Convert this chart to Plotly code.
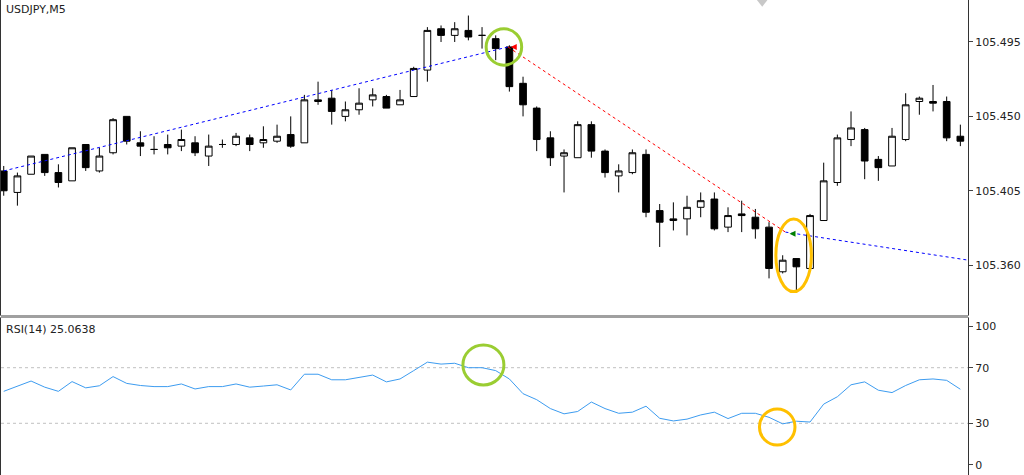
import plotly.graph_objects as go
from plotly.subplots import make_subplots

# USDJPY M5 candles
opens = [105.417, 105.404, 105.415, 105.427, 105.416, 105.411, 105.433, 105.417, 105.428, 105.450,
         105.434, 105.430, 105.433, 105.432, 105.434, 105.426, 105.433, 105.433, 105.437, 105.434,
         105.435, 105.439, 105.434, 105.459, 105.461, 105.450, 105.454, 105.460, 105.462, 105.457,
         105.462, 105.478, 105.503, 105.499, 105.502, 105.499, 105.497, 105.492, 105.470, 105.455,
         105.437, 105.426, 105.425, 105.445, 105.429, 105.414, 105.416, 105.427, 105.393, 105.387,
         105.388, 105.395, 105.400, 105.383, 105.391, 105.389, 105.383, 105.356, 105.364, 105.358,
         105.387, 105.410, 105.436, 105.442, 105.424, 105.420, 105.436, 105.459, 105.459, 105.459,
         105.438]
highs = [105.420, 105.416, 105.426, 105.427, 105.421, 105.431, 105.433, 105.431, 105.449, 105.450,
         105.441, 105.438, 105.439, 105.442, 105.438, 105.439, 105.436, 105.440, 105.439, 105.444,
         105.445, 105.450, 105.463, 105.471, 105.466, 105.459, 105.467, 105.467, 105.463, 105.466,
         105.480, 105.504, 105.505, 105.507, 105.511, 105.504, 105.499, 105.493, 105.474, 105.456,
         105.441, 105.430, 105.447, 105.447, 105.430, 105.421, 105.430, 105.430, 105.397, 105.398,
         105.402, 105.404, 105.404, 105.395, 105.399, 105.394, 105.386, 105.366, 105.364, 105.391,
         105.422, 105.439, 105.453, 105.443, 105.426, 105.443, 105.464, 105.462, 105.469, 105.462,
         105.445]
lows = [105.402, 105.396, 105.415, 105.414, 105.407, 105.411, 105.417, 105.416, 105.427, 105.433,
        105.426, 105.427, 105.427, 105.429, 105.426, 105.420, 105.431, 105.432, 105.429, 105.431,
        105.434, 105.431, 105.434, 105.457, 105.445, 105.447, 105.451, 105.456, 105.455, 105.457,
        105.462, 105.471, 105.495, 105.495, 105.496, 105.491, 105.484, 105.465, 105.450, 105.429,
        105.420, 105.404, 105.425, 105.425, 105.413, 105.404, 105.415, 105.389, 105.371, 105.381,
        105.378, 105.389, 105.381, 105.380, 105.380, 105.376, 105.352, 105.355, 105.344, 105.356,
        105.387, 105.408, 105.432, 105.412, 105.411, 105.420, 105.435, 105.451, 105.453, 105.435,
        105.432]
closes = [105.405, 105.414, 105.426, 105.416, 105.410, 105.431, 105.419, 105.426, 105.448, 105.435,
          105.432, 105.430, 105.431, 105.436, 105.428, 105.432, 105.433, 105.438, 105.433, 105.436,
          105.438, 105.432, 105.460, 105.460, 105.453, 105.454, 105.458, 105.463, 105.455, 105.460,
          105.479, 105.502, 105.499, 105.503, 105.498, 105.499, 105.491, 105.468, 105.457, 105.436,
          105.425, 105.428, 105.445, 105.429, 105.416, 105.417, 105.428, 105.392, 105.386, 105.388,
          105.395, 105.399, 105.382, 105.390, 105.390, 105.382, 105.358, 105.363, 105.359, 105.390,
          105.411, 105.437, 105.443, 105.423, 105.419, 105.438, 105.457, 105.461, 105.458, 105.437,
          105.435]
rsi = [53, 56.6, 60.4, 56, 53, 60, 55.5, 57, 63.6, 58.7,
       57.2, 56.4, 56.4, 58.3, 54.7, 56.4, 56.4, 58.3, 56, 56.8,
       57.7, 54, 65.3, 65.3, 61.3, 61.3, 62.8, 64.7, 59.8, 61.9,
       67.9, 74, 72.6, 73.2, 70, 70, 67.9, 61.9, 51.3, 47,
       40.6, 36.8, 38.5, 45.3, 40.6, 37.2, 38, 42.3, 33.6, 31.7,
       33, 36, 38, 33.4, 37.2, 37.2, 34.3, 29.6, 31.5, 30.9,
       43.8, 49.1, 57.7, 59.8, 53.8, 52.1, 57.2, 61.3, 61.9, 60.9,
       54.5]
bars = list(range(len(opens)))

# trend lines (bar index, price)
up_line = ([0, 36.9], [105.417, 105.492])
down_line = ([36.9, 57.2], [105.492, 105.380])
low_line = ([57.2, 70.6], [105.380, 105.363])

fig = make_subplots(rows=2, cols=1, shared_xaxes=True, vertical_spacing=0)

fig.add_trace(go.Candlestick(x=bars, open=opens, high=highs, low=lows, close=closes,
                             increasing=dict(fillcolor="white", line=dict(color="black", width=1)),
                             decreasing=dict(fillcolor="black", line=dict(color="black", width=1)),
                             whiskerwidth=0, showlegend=False), row=1, col=1)
for (lx, ly), c in [(up_line, "blue"), (down_line, "red"), (low_line, "blue")]:
    fig.add_trace(go.Scatter(x=lx, y=ly, mode="lines", line=dict(color=c, width=1, dash="dot"),
                             showlegend=False), row=1, col=1)
fig.add_trace(go.Scatter(x=[37.1], y=[105.492], mode="markers",
                         marker=dict(symbol="arrow-left", size=6, color="red"), showlegend=False), row=1, col=1)
fig.add_trace(go.Scatter(x=[57.5], y=[105.379], mode="markers",
                         marker=dict(symbol="arrow-left", size=6, color="green"), showlegend=False), row=1, col=1)
fig.add_trace(go.Scatter(x=[55.5], y=[105.5205], mode="markers", cliponaxis=True,
                         marker=dict(symbol="triangle-down", size=14, color="#c8c8c8"), showlegend=False), row=1, col=1)

fig.add_trace(go.Scatter(x=bars, y=rsi, mode="lines", line=dict(color="#3d9cf0", width=1),
                         showlegend=False), row=2, col=1)

# highlight circles
fig.add_shape(type="circle", xref="x", yref="y", x0=35.3, x1=37.9, y0=105.481, y1=105.503,
              line=dict(color="#9acd32", width=3))
fig.add_shape(type="circle", xref="x", yref="y", x0=56.5, x1=59.1, y0=105.344, y1=105.388,
              line=dict(color="#ffc000", width=3))
fig.add_shape(type="circle", xref="x2", yref="y2", x0=33.6, x1=36.6, y0=57.6, y1=86.4,
              line=dict(color="#9acd32", width=3))
fig.add_shape(type="circle", xref="x2", yref="y2", x0=55.3, x1=57.9, y0=14.3, y1=40.3,
              line=dict(color="#ffc000", width=3))
for lvl in [30, 70]:
    fig.add_shape(type="line", xref="x2 domain", yref="y2", x0=0, x1=1, y0=lvl, y1=lvl,
                  line=dict(color="#c0c0c0", width=1, dash="dot"), layer="below")
# pane separator
fig.add_shape(type="rect", xref="paper", yref="paper", x0=0, x1=1, y0=0.3305, y1=0.337,
              line=dict(width=0), fillcolor="#a0a0a0")

fig.add_annotation(text="USDJPY,M5", xref="paper", yref="paper", x=0.003, y=0.998,
                   xanchor="left", yanchor="top", showarrow=False, font=dict(size=11, color="#222"))
fig.add_annotation(text="RSI(14) 25.0638", xref="paper", yref="paper", x=0.003, y=0.325,
                   xanchor="left", yanchor="top", showarrow=False, font=dict(size=11, color="#222"))

axis_font = dict(family="DejaVu Sans", size=11, color="#222")
fig.update_xaxes(range=[-0.2, 70.56], showgrid=False, showticklabels=False, zeroline=False,
                 rangeslider=dict(visible=False), showline=True, linecolor="#888", mirror=True)
fig.update_yaxes(side="right", showgrid=False, zeroline=False, ticks="outside", ticklen=4,
                 showline=True, linecolor="#333", mirror=True, tickfont=axis_font)
fig.update_yaxes(range=[105.3299, 105.5204], tickvals=[105.360, 105.405, 105.450, 105.495],
                 tickformat=".3f", domain=[0.337, 1], row=1, col=1)
fig.update_yaxes(range=[-7.2, 105.75], tickvals=[0, 30, 70, 100], domain=[0.0, 0.3305], row=2, col=1)

fig.update_layout(width=1024, height=475, margin=dict(l=1, r=56, t=0, b=0),
                  paper_bgcolor="white", plot_bgcolor="white",
                  font=dict(family="DejaVu Sans"))
fig.write_html("out.html", config={"displayModeBar": False},
               post_script="document.body.style.margin='0';")
